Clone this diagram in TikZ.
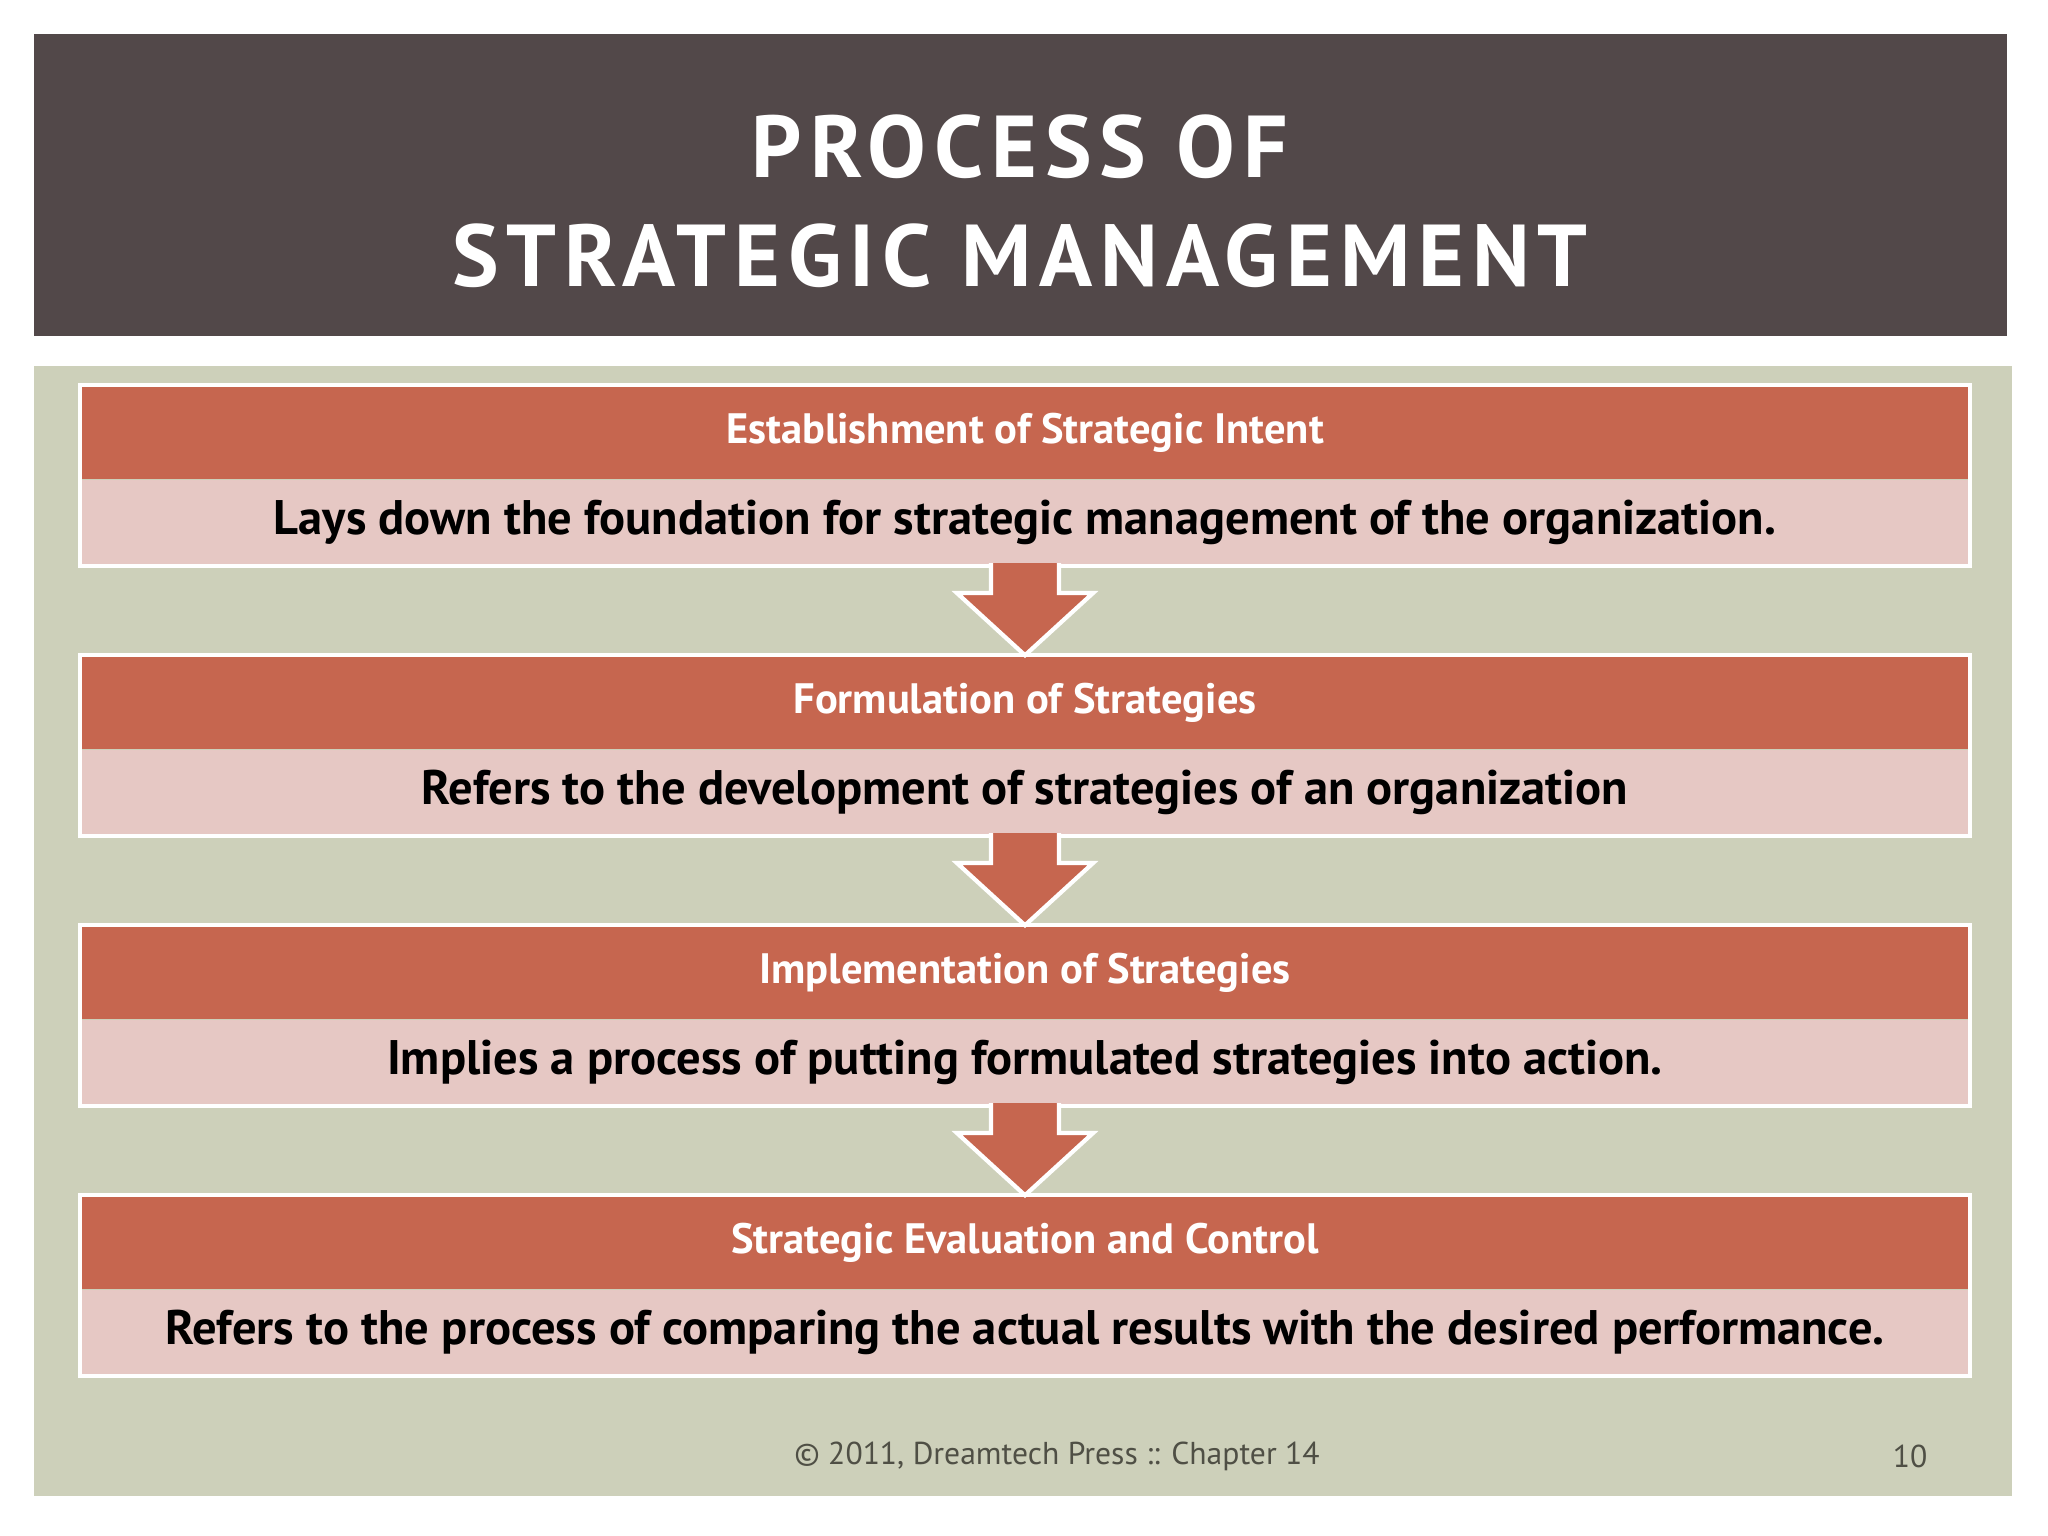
\documentclass[tikz,border=0pt]{standalone}
\usepackage{xcolor}
\usepackage{fontspec}
\setmainfont{PT Sans}
\usepackage{tikz}
\usetikzlibrary{positioning}
\usetikzlibrary{calc}

\definecolor{titlebar}{HTML}{524849}
\definecolor{panel}{HTML}{CDD0BA}
\definecolor{stephead}{HTML}{C6664F}
\definecolor{stepbody}{HTML}{E6C8C4}
\definecolor{footgray}{HTML}{4F4F45}

\begin{document}
\begin{tikzpicture}[
    headbox/.style={fill=stephead, text=white, minimum width=18.88cm, minimum height=0.93cm, inner sep=0pt, font=\bfseries\fontsize{12.1}{14}\selectfont},
    bodybox/.style={fill=stepbody, text=black, minimum width=18.88cm, minimum height=0.85cm, inner sep=0pt, font=\bfseries\fontsize{13.8}{16}\selectfont},
    boxframe/.style={draw=white, line width=1.2pt},
    downarrow/.style={fill=stephead, draw=white, line width=1.2pt, line join=miter}
]
    \fill[white] (0,0) rectangle (20.48,15.36);
    \useasboundingbox (0,0) rectangle (20.48,15.36);
    \fill[titlebar] (0.34,12.00) rectangle (20.07,15.02);
    \fill[panel] (0.34,0.40) rectangle (20.12,11.70);
    \node[text=white, align=center, inner sep=0pt, font=\bfseries\fontsize{25}{31}\selectfont\addfontfeature{LetterSpace=9}] (title) at (10.20,13.35) {PROCESS OF\\STRATEGIC MANAGEMENT};

    \node[headbox] (h1) at (10.25,11.035) {Establishment of Strategic Intent};
    \node[bodybox, below=0pt of h1] (b1) {Lays down the foundation for strategic management of the organization.};
    \node[headbox] (h2) at (10.25,8.335) {Formulation of Strategies};
    \node[bodybox, below=0pt of h2] (b2) {Refers to the development of strategies of an organization};
    \node[headbox] (h3) at (10.25,5.635) {Implementation of Strategies};
    \node[bodybox, below=0pt of h3] (b3) {Implies a process of putting formulated strategies into action.};
    \node[headbox] (h4) at (10.25,2.935) {Strategic Evaluation and Control};
    \node[bodybox, below=0pt of h4] (b4) {Refers to the process of comparing the actual results with the desired performance.};

    \draw[boxframe] (h1.north west) rectangle (b1.south east);
    \draw[boxframe] (h2.north west) rectangle (b2.south east);
    \draw[boxframe] (h3.north west) rectangle (b3.south east);
    \draw[boxframe] (h4.north west) rectangle (b4.south east);

    \path[downarrow] ($(b1.south)+(-0.34,0.03)$) -- ($(b1.south)+(-0.34,-0.27)$) -- ($(b1.south)+(-0.68,-0.27)$) -- (h2.north) -- ($(b1.south)+(0.68,-0.27)$) -- ($(b1.south)+(0.34,-0.27)$) -- ($(b1.south)+(0.34,0.03)$);
    \path[downarrow] ($(b2.south)+(-0.34,0.03)$) -- ($(b2.south)+(-0.34,-0.27)$) -- ($(b2.south)+(-0.68,-0.27)$) -- (h3.north) -- ($(b2.south)+(0.68,-0.27)$) -- ($(b2.south)+(0.34,-0.27)$) -- ($(b2.south)+(0.34,0.03)$);
    \path[downarrow] ($(b3.south)+(-0.34,0.03)$) -- ($(b3.south)+(-0.34,-0.27)$) -- ($(b3.south)+(-0.68,-0.27)$) -- (h4.north) -- ($(b3.south)+(0.68,-0.27)$) -- ($(b3.south)+(0.34,-0.27)$) -- ($(b3.south)+(0.34,0.03)$);

    \node[text=footgray, font=\fontsize{9}{11}\selectfont] (footer) at (10.57,0.80) {\textcopyright{} 2011, Dreamtech Press :: Chapter 14};
    \node[text=footgray, font=\fontsize{9}{11}\selectfont] (pagenum) at (19.10,0.80) {10};
\end{tikzpicture}
\end{document}
